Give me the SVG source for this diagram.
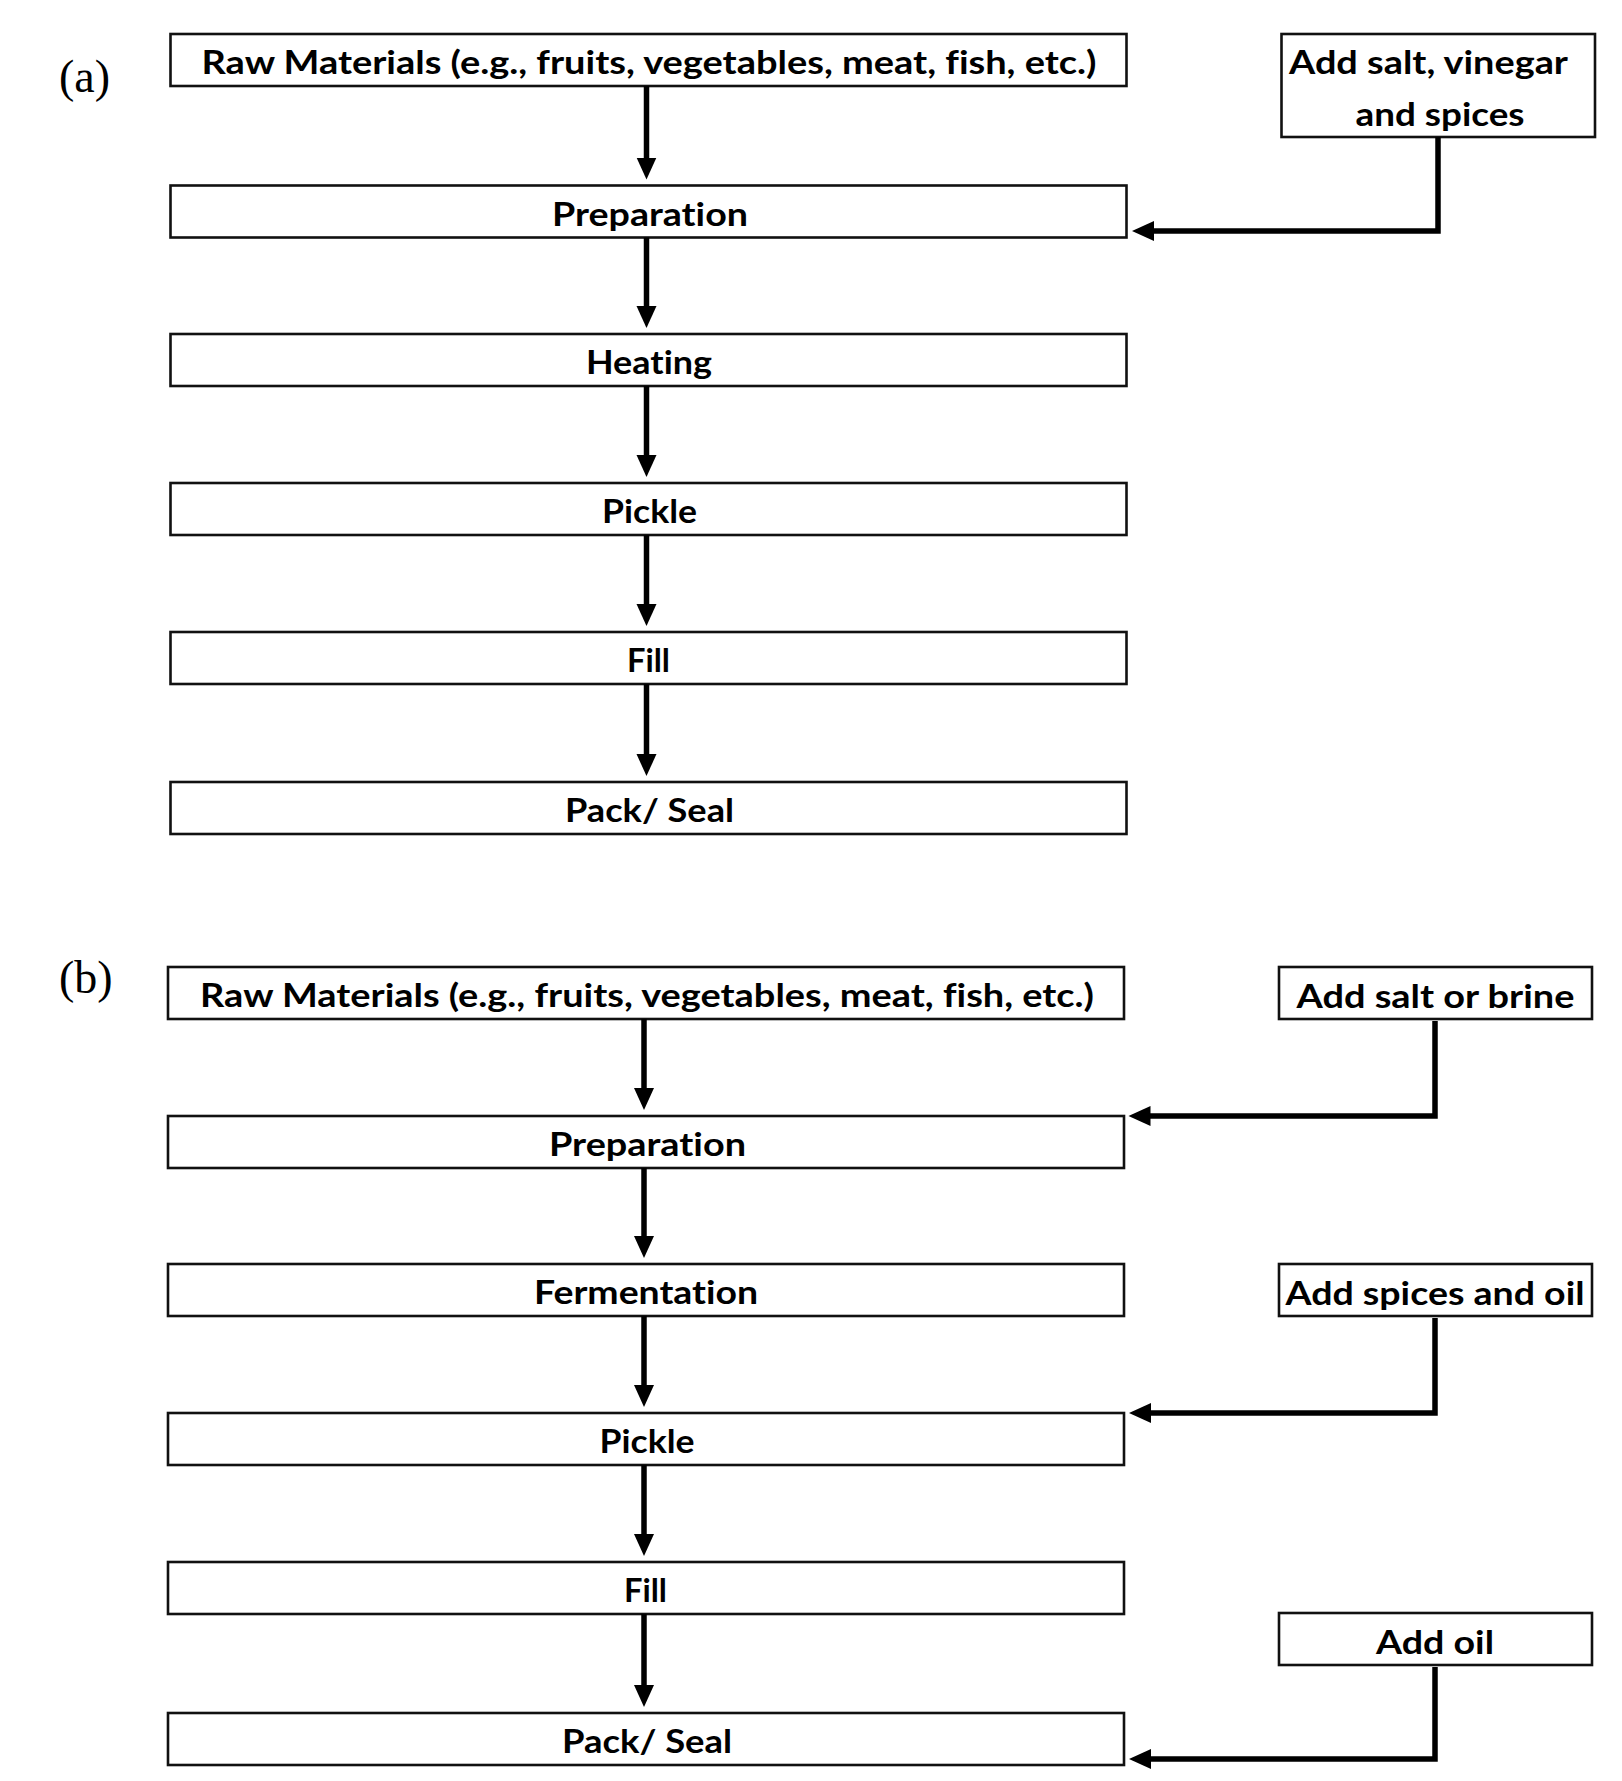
<svg xmlns="http://www.w3.org/2000/svg" width="1622" height="1781" viewBox="0 0 1622 1781">
<style>
.box{fill:#fff;stroke:#111;stroke-width:2.6}
.t{font-family:Lato,"Open Sans","Liberation Sans",sans-serif;font-weight:bold;font-size:33px;fill:#000;text-anchor:middle;font-variant-ligatures:none;font-feature-settings:"liga" 0}
.lab{font-family:"Liberation Serif","DejaVu Serif",serif;font-size:46px;fill:#000}
.c{fill:none;stroke:#000;stroke-width:5.5}
</style>
<defs>
<marker id="ah" markerUnits="userSpaceOnUse" markerWidth="24" markerHeight="22" refX="1" refY="10" orient="auto">
<path d="M0,0 L22,10 L0,20 z" fill="#000"/>
</marker>
</defs>
<rect width="1622" height="1781" fill="#fff"/>
<text class="lab" x="59" y="92">(a)</text>
<text class="lab" x="59" y="993">(b)</text>

<g id="a-raw"><rect class="box" x="170.5" y="34" width="956" height="52"/><text class="t" x="649" y="74" textLength="895" lengthAdjust="spacingAndGlyphs">Raw Materials (e.g., fruits, vegetables, meat, fish, etc.)</text></g>
<g id="a-prep"><rect class="box" x="170.5" y="185.5" width="956" height="52"/><text class="t" x="650" y="226" textLength="196" lengthAdjust="spacingAndGlyphs">Preparation</text></g>
<g id="a-heat"><rect class="box" x="170.5" y="334" width="956" height="52"/><text class="t" x="649" y="374" textLength="126" lengthAdjust="spacingAndGlyphs">Heating</text></g>
<g id="a-pickle"><rect class="box" x="170.5" y="483" width="956" height="52"/><text class="t" x="649.5" y="523" textLength="95" lengthAdjust="spacingAndGlyphs">Pickle</text></g>
<g id="a-fill"><rect class="box" x="170.5" y="632" width="956" height="52"/><text class="t" x="648.5" y="672" textLength="43" lengthAdjust="spacingAndGlyphs">Fill</text></g>
<g id="a-pack"><rect class="box" x="170.5" y="782" width="956" height="52"/><text class="t" x="649.5" y="822" textLength="169" lengthAdjust="spacingAndGlyphs">Pack/ Seal</text></g>
<g id="a-add"><rect class="box" x="1281.5" y="34" width="313.5" height="103"/><text class="t" x="1428.5" y="74" textLength="279" lengthAdjust="spacingAndGlyphs">Add salt, vinegar</text><text class="t" x="1440" y="126" textLength="169" lengthAdjust="spacingAndGlyphs">and spices</text></g>

<g id="b-raw"><rect class="box" x="168" y="967" width="956" height="52"/><text class="t" x="647" y="1007" textLength="894" lengthAdjust="spacingAndGlyphs">Raw Materials (e.g., fruits, vegetables, meat, fish, etc.)</text></g>
<g id="b-prep"><rect class="box" x="168" y="1116" width="956" height="52"/><text class="t" x="647.5" y="1156" textLength="197" lengthAdjust="spacingAndGlyphs">Preparation</text></g>
<g id="b-ferm"><rect class="box" x="168" y="1264" width="956" height="52"/><text class="t" x="646" y="1304" textLength="224" lengthAdjust="spacingAndGlyphs">Fermentation</text></g>
<g id="b-pickle"><rect class="box" x="168" y="1413" width="956" height="52"/><text class="t" x="647" y="1453" textLength="95" lengthAdjust="spacingAndGlyphs">Pickle</text></g>
<g id="b-fill"><rect class="box" x="168" y="1562" width="956" height="52"/><text class="t" x="645.5" y="1602" textLength="43" lengthAdjust="spacingAndGlyphs">Fill</text></g>
<g id="b-pack"><rect class="box" x="168" y="1713" width="956" height="52"/><text class="t" x="647" y="1753" textLength="170" lengthAdjust="spacingAndGlyphs">Pack/ Seal</text></g>
<g id="b-salt"><rect class="box" x="1279" y="967" width="313" height="52"/><text class="t" x="1435.5" y="1008" textLength="278" lengthAdjust="spacingAndGlyphs">Add salt or brine</text></g>
<g id="b-spice"><rect class="box" x="1279" y="1264" width="313" height="52"/><text class="t" x="1435" y="1305" textLength="299" lengthAdjust="spacingAndGlyphs">Add spices and oil</text></g>
<g id="b-oil"><rect class="box" x="1279" y="1613" width="313" height="52"/><text class="t" x="1435" y="1654" textLength="118" lengthAdjust="spacingAndGlyphs">Add oil</text></g>

<g id="connectors">
<path class="c" marker-end="url(#ah)" d="M646.5,86 V158.5"/>
<path class="c" marker-end="url(#ah)" d="M646.5,237.5 V307"/>
<path class="c" marker-end="url(#ah)" d="M646.5,386 V456"/>
<path class="c" marker-end="url(#ah)" d="M646.5,535 V605"/>
<path class="c" marker-end="url(#ah)" d="M646.5,684 V755"/>
<path class="c" marker-end="url(#ah)" d="M1438,137 V231 H1153"/>

<path class="c" marker-end="url(#ah)" d="M644,1019 V1089"/>
<path class="c" marker-end="url(#ah)" d="M644,1168 V1237"/>
<path class="c" marker-end="url(#ah)" d="M644,1316 V1386"/>
<path class="c" marker-end="url(#ah)" d="M644,1465 V1535"/>
<path class="c" marker-end="url(#ah)" d="M644,1614 V1686"/>
<path class="c" marker-end="url(#ah)" d="M1435,1021 V1116 H1149.5"/>
<path class="c" marker-end="url(#ah)" d="M1435,1318 V1413 H1150"/>
<path class="c" marker-end="url(#ah)" d="M1435,1667 V1759 H1150"/>
</g>
</svg>
